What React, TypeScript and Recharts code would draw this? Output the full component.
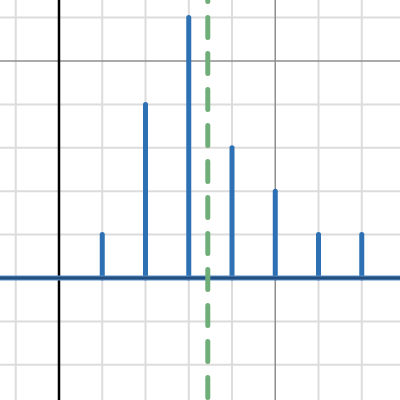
import React from "react";
import { ComposedChart, XAxis, YAxis, ReferenceLine } from "recharts";

// values
const xValues = [1, 2, 3, 4, 5, 6, 7];
const counts = [1, 4, 6, 3, 2, 1, 1];
const meanX = 3.44;

// grid positions
const minorX = [-1, 1, 2, 3, 4, 6, 7];
const minorY = [-2, -1, 1, 2, 3, 4, 6];
const majorX = [5];
const majorY = [5];

const data = xValues.map((x, i) => ({ x, n: counts[i] }));

export default function App() {
  return (
    <div style={{ position: "fixed", left: 0, top: 0, width: 400, height: 400, background: "#fff" }}>
      <ComposedChart width={400} height={400} data={data} margin={{ top: 0, right: 0, bottom: 0, left: 0 }}>
        <XAxis dataKey="x" type="number" domain={[-1.364, 7.884]} allowDataOverflow hide />
        <YAxis type="number" domain={[-2.811, 6.405]} allowDataOverflow hide />
        {minorX.map((v) => (
          <ReferenceLine key={"mx" + v} x={v} stroke="#dcdcdc" strokeWidth={2} />
        ))}
        {minorY.map((v) => (
          <ReferenceLine key={"my" + v} y={v} stroke="#dcdcdc" strokeWidth={2} />
        ))}
        {majorX.map((v) => (
          <ReferenceLine key={"Mx" + v} x={v} stroke="#8e8e8e" strokeWidth={1.5} />
        ))}
        {majorY.map((v) => (
          <ReferenceLine key={"My" + v} y={v} stroke="#8e8e8e" strokeWidth={1.5} />
        ))}
        <ReferenceLine x={0} stroke="#000" strokeWidth={2.5} />
        {/* stems of the distribution */}
        {data.map((d) => (
          <ReferenceLine
            key={"s" + d.x}
            segment={[{ x: d.x, y: 0 }, { x: d.x, y: d.n }]}
            stroke="#2d70b3"
            strokeWidth={5}
            strokeLinecap="round"
          />
        ))}
        <ReferenceLine y={0} stroke="#5b8fc6" strokeWidth={5} />
        <ReferenceLine y={0} stroke="#234f80" strokeWidth={3} />
        <ReferenceLine
          x={meanX}
          stroke="#6fae78"
          strokeWidth={5}
          strokeLinecap="round"
          strokeDasharray="20 16"
          strokeDashoffset={33.5}
        />
      </ComposedChart>
    </div>
  );
}
